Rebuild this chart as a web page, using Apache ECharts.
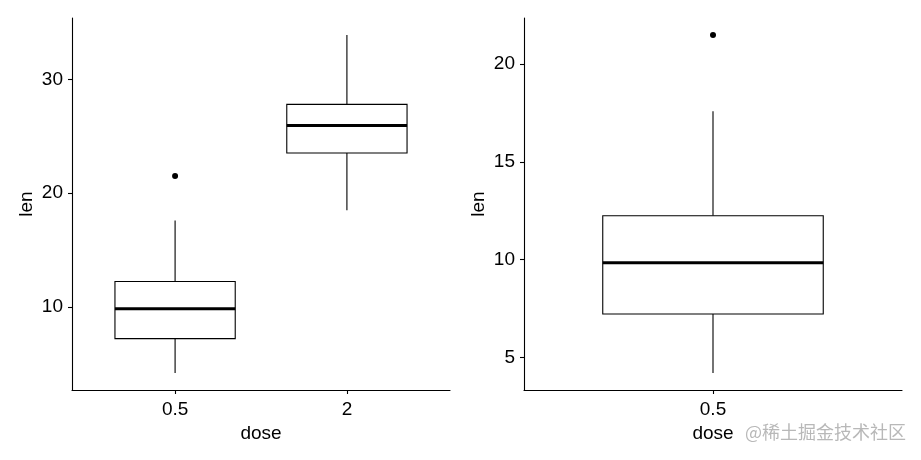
<!DOCTYPE html>
<html>
<head>
<meta charset="utf-8">
<script src="https://cdn.jsdelivr.net/npm/echarts@6/dist/echarts.min.js"></script>
<style>
html,body{margin:0;padding:0;background:#fff;}
#chart{width:921px;height:460px;}
</style>
</head>
<body>
<div id="chart"></div>
<script>
// ---- data ----
const doseLabels = ['0.5', '2'];
const doseRightLabels = ['0.5'];
// box stats: [position, lowerWhisker, Q1, median, Q3, upperWhisker]
const leftBoxes = [
  [1, 4.2, 7.225, 9.85, 12.25, 17.6],
  [2, 18.5, 23.525, 25.95, 27.8, 33.9]
];
const leftOutliers = [[1, 21.5]];
const rightBoxes = [
  [1, 4.2, 7.225, 9.85, 12.25, 17.6]
];
const rightOutliers = [[1, 21.5]];
const leftYTicks = [10, 20, 30];
const rightYTicks = [5, 10, 15, 20];
const leftYRange = [2.715, 35.385];
const rightYRange = [3.335, 22.365];
const leftXRange = [0.4, 2.6];
const rightXRange = [0.4, 1.6];

const FONT = 'Liberation Sans';
const chart = echarts.init(document.getElementById('chart'), null, {renderer: 'canvas'});

function renderBox(params, api) {
  const x = api.value(0);
  const lo = api.coord([x, api.value(1)]);
  const q1 = api.coord([x, api.value(2)]);
  const md = api.coord([x, api.value(3)]);
  const q3 = api.coord([x, api.value(4)]);
  const hi = api.coord([x, api.value(5)]);
  const w = api.size([0.7, 0])[0];
  const l = q1[0] - w / 2;
  const ls = {stroke: '#000', lineWidth: 1.1};
  return {
    type: 'group',
    children: [
      {type: 'line', shape: {x1: hi[0], y1: hi[1], x2: q3[0], y2: q3[1]}, style: ls},
      {type: 'line', shape: {x1: lo[0], y1: lo[1], x2: q1[0], y2: q1[1]}, style: ls},
      {type: 'rect', shape: {x: l, y: q3[1], width: w, height: q1[1] - q3[1]}, style: {fill: '#fff', stroke: '#000', lineWidth: 1.1}},
      {type: 'line', shape: {x1: l, y1: md[1], x2: l + w, y2: md[1]}, style: {stroke: '#000', lineWidth: 3}}
    ]
  };
}

function xAxisDef(idx, range, labels) {
  const vals = labels.map((_, i) => i + 1);
  return {
    gridIndex: idx, type: 'value', min: range[0], max: range[1],
    name: 'dose', nameLocation: 'middle', nameGap: 32,
    nameTextStyle: {fontFamily: FONT, fontSize: 19, color: '#000'},
    axisLine: {show: true, onZero: false, lineStyle: {color: '#000', width: 1.1}},
    axisTick: {show: true, length: 4, customValues: vals, lineStyle: {color: '#000', width: 1.1}},
    axisLabel: {customValues: vals, margin: 10, fontFamily: FONT, fontSize: 19, color: '#000',
      formatter: v => labels[Math.round(v) - 1]},
    splitLine: {show: false}
  };
}
function yAxisDef(idx, range, ticks) {
  return {
    gridIndex: idx, type: 'value', min: range[0], max: range[1],
    name: 'len', nameLocation: 'middle', nameGap: 36,
    nameTextStyle: {fontFamily: FONT, fontSize: 19, color: '#000'},
    axisLine: {show: true, onZero: false, lineStyle: {color: '#000', width: 1.1}},
    axisTick: {show: true, length: 4, customValues: ticks, lineStyle: {color: '#000', width: 1.1}},
    axisLabel: {customValues: ticks, margin: 9, fontFamily: FONT, fontSize: 19, color: '#000'},
    splitLine: {show: false}
  };
}

chart.setOption({
  animation: false,
  backgroundColor: '#fff',
  grid: [
    {left: 72, right: 471, top: 18, bottom: 70},
    {left: 524, right: 19, top: 18, bottom: 70}
  ],
  xAxis: [xAxisDef(0, leftXRange, doseLabels), xAxisDef(1, rightXRange, doseRightLabels)],
  yAxis: [yAxisDef(0, leftYRange, leftYTicks), yAxisDef(1, rightYRange, rightYTicks)],
  series: [
    {type: 'custom', xAxisIndex: 0, yAxisIndex: 0, renderItem: renderBox, data: leftBoxes,
      encode: {x: 0, y: [1, 2, 3, 4, 5]}},
    {type: 'scatter', xAxisIndex: 0, yAxisIndex: 0, data: leftOutliers, symbolSize: 6,
      itemStyle: {color: '#000', opacity: 1}},
    {type: 'custom', xAxisIndex: 1, yAxisIndex: 1, renderItem: renderBox, data: rightBoxes,
      encode: {x: 0, y: [1, 2, 3, 4, 5]}},
    {type: 'scatter', xAxisIndex: 1, yAxisIndex: 1, data: rightOutliers, symbolSize: 6,
      itemStyle: {color: '#000', opacity: 1}}
  ],
  graphic: [
    {type: 'text', left: 745, top: 423,
      style: {text: '@稀土掘金技术社区', fontFamily: 'Noto Sans CJK SC', fontSize: 18, fill: '#b8b8b8'}}
  ]
});
</script>
</body>
</html>
